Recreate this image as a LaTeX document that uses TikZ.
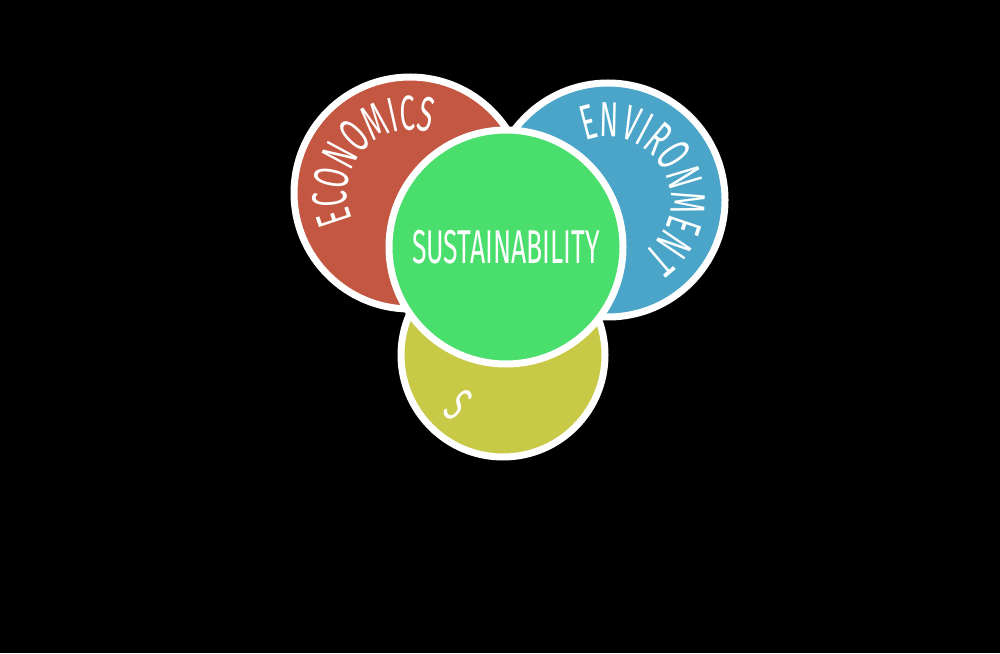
\documentclass[tikz,border=0pt]{standalone}
\usepackage{fontspec}
\newfontfamily\handfont[FakeStretch=0.56]{Fira Sans}
\usetikzlibrary{decorations.text,positioning}

\definecolor{ecoRed}{RGB}{196,87,66}
\definecolor{envBlue}{RGB}{74,165,200}
\definecolor{susGreen}{RGB}{74,222,108}
\definecolor{socYellow}{RGB}{200,201,70}

\newcommand{\curvedFont}{\handfont\fontsize{28}{28}\selectfont}
\newcommand{\titleFont}{\handfont\fontsize{27}{27}\selectfont}

\begin{document}
\begin{tikzpicture}
[x=0.02cm, y=0.02cm,
bubble/.style={circle, draw=white, line width=0.14cm, inner sep=0pt},
curvedText/.style={decorate, decoration={text along path, text align=fit to path, text color=white, text={|\curvedFont|#1}}},
label/.style={text=white, inner sep=0pt}
]

\def \u {0.02cm}
\def \rtext {63}

% background and frame
\fill[black] (0,0) rectangle (1000,653);
\useasboundingbox (0,0) rectangle (1000,653);

% Circles
\node[bubble, fill=ecoRed, minimum size=232*\u] (eco) at (410,460) {};
\node[bubble, fill=envBlue, minimum size=234*\u] (env) at (608,453) {};
\node[bubble, fill=socYellow, minimum size=204*\u] (soc) at (503,298) {};
\node[bubble, fill=susGreen, minimum size=234*\u] (sus) at (506,406) {};

% Curved labels
\path[curvedText=ECONOMICS] (eco.center) ++(205:\rtext) arc[start angle=205, end angle=74, radius=\rtext*\u];
\path[curvedText=ENVIRONMENT] (env.center) ++(111:\rtext) arc[start angle=111, end angle=-56, radius=\rtext*\u];

% Straight labels
\node[label, font=\titleFont] (susText) at (sus.center) {SUSTAINABILITY};
\node[label, font=\curvedFont, rotate=-42] (socText) at (458,248) {S};
\end{tikzpicture}
\end{document}
